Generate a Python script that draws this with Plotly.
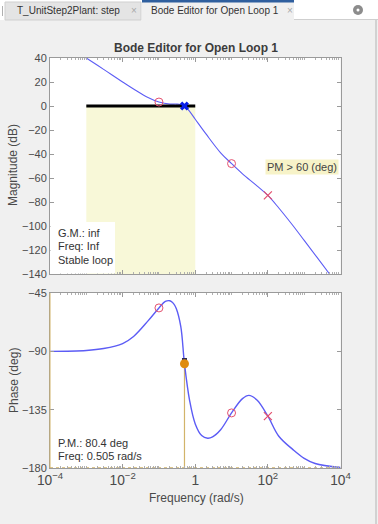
import plotly.graph_objects as go

# ---------------- data ----------------
mag_freq = [1e-4, 1e-3, 3e-3, 1e-2, 2e-2, 5e-2, 0.1, 0.2, 0.3, 0.4, 0.505, 0.7, 1.0, 2.0,
            5.0, 10.0, 20.0, 50.0, 100.0, 200.0, 500.0, 1000.0, 5000.0, 1e4]
mag_db = [60, 40, 30.5, 20, 14.2, 7.1, 3.3, 1.6, 1.6, 1.3, 0, -4.5, -11, -23.5,
          -39, -48, -56.5, -66.5, -74.5, -85, -100, -112, -140, -152]

phase_freq = [1e-4, 1e-3, 3e-3, 1e-2, 2e-2, 5e-2, 0.1, 0.15, 0.2, 0.25, 0.3, 0.4, 0.505,
              0.7, 1.0, 1.5, 2.2, 3.0, 5.0, 10.0, 20.0, 30.0, 50.0, 100.0, 200.0, 500.0,
              1000.0, 2000.0, 1e4]
phase_deg = [-90, -89.3, -87.8, -84, -78.5, -66.5, -56.5, -51.5, -51, -53, -57, -71, -99.6,
             -128, -146, -155, -157, -156, -150.5, -137.5, -126.5, -124, -127.5, -140,
             -155.5, -166, -172.5, -176.5, -179.6]

# compensator zeros (circles) and pole (x)
zero_freq = [0.1, 10.0]
zero_mag = [3.3, -48]
zero_phase = [-56.5, -137.5]
pole_freq = [100.0]
pole_mag = [-74.5]
pole_phase = [-140]

# crossover / margins
wc = 0.505
pm_phase = -99.6
gm_text = ["G.M.: inf", "Freq: Inf", "Stable loop"]
pm_text = ["P.M.: 80.4 deg", "Freq: 0.505 rad/s"]
constraint_label = "PM > 60 (deg)"
# design constraint region (magnitude plot)
bound_freq = [1e-3, 1.0]
bound_mag = [0, -140]

mag_ticks = [40, 20, 0, -20, -40, -60, -80, -100, -120, -140]
phase_ticks = [-45, -90, -135, -180]

title = "Bode Editor for Open Loop 1"
tab_labels = ["T_UnitStep2Plant: step", "Bode Editor for Open Loop 1"]

# ---------------- layout helpers ----------------
W, H = 378, 524
def px(x): return x / W
def py(y): return 1 - y / H

FONT = "Liberation Sans, Arial, Helvetica, sans-serif"
TXT = "#4a4a4a"
AX = "#9a9a9a"
BLUE = "#5c5cf5"
PINK = "#e4506e"
ORANGE = "#df8c10"
TAN = "#d2b46a"

fig = go.Figure()

# yellow constraint region + black bound line
fig.add_trace(go.Scatter(
    x=[bound_freq[0], bound_freq[1], bound_freq[1], bound_freq[0], bound_freq[0]],
    y=[bound_mag[0], bound_mag[0], bound_mag[1], bound_mag[1], bound_mag[0]],
    fill="toself", fillcolor="#f8f8d8", mode="lines", line=dict(width=0),
    xaxis="x", yaxis="y", hoverinfo="skip"))

fig.add_trace(go.Scatter(
    x=mag_freq, y=mag_db, mode="lines", line=dict(color=BLUE, width=1.1, shape="spline"),
    xaxis="x", yaxis="y"))

fig.add_trace(go.Scatter(
    x=bound_freq, y=[bound_mag[0], bound_mag[0]], mode="lines",
    line=dict(color="#000000", width=3), xaxis="x", yaxis="y"))

fig.add_trace(go.Scatter(
    x=zero_freq, y=zero_mag, mode="markers",
    marker=dict(symbol="circle-open", size=8, color=PINK, line=dict(width=1)),
    xaxis="x", yaxis="y"))
fig.add_trace(go.Scatter(
    x=pole_freq, y=pole_mag, mode="markers",
    marker=dict(symbol="x-thin-open", size=8, color=PINK, line=dict(width=1.2, color=PINK)),
    xaxis="x", yaxis="y"))
fig.add_trace(go.Scatter(
    x=[wc], y=[0], mode="markers",
    marker=dict(symbol="x", size=8, color="#0a1ee6", line=dict(width=0)),
    xaxis="x", yaxis="y"))

# phase plot
fig.add_trace(go.Scatter(
    x=[phase_freq[0], phase_freq[-1]], y=[-180, -180], mode="lines",
    line=dict(color=TAN, width=1.5, dash="dot"), xaxis="x2", yaxis="y2"))
fig.add_trace(go.Scatter(
    x=[wc, wc], y=[pm_phase, -180], mode="lines",
    line=dict(color=TAN, width=1.2), xaxis="x2", yaxis="y2"))
fig.add_trace(go.Scatter(
    x=phase_freq, y=phase_deg, mode="lines", line=dict(color=BLUE, width=1.4, shape="spline"),
    xaxis="x2", yaxis="y2"))
fig.add_trace(go.Scatter(
    x=zero_freq, y=zero_phase, mode="markers",
    marker=dict(symbol="circle-open", size=8, color=PINK, line=dict(width=1)),
    xaxis="x2", yaxis="y2"))
fig.add_trace(go.Scatter(
    x=pole_freq, y=pole_phase, mode="markers",
    marker=dict(symbol="x-thin-open", size=8, color=PINK, line=dict(width=1.2, color=PINK)),
    xaxis="x2", yaxis="y2"))
fig.add_trace(go.Scatter(
    x=[wc], y=[pm_phase + 2.5], mode="markers",
    marker=dict(symbol="square", size=5, color="#2a2a5a"),
    xaxis="x2", yaxis="y2"))
fig.add_trace(go.Scatter(
    x=[wc], y=[pm_phase], mode="markers",
    marker=dict(symbol="circle", size=9, color=ORANGE),
    xaxis="x2", yaxis="y2"))

xdom = [px(50), px(340.5)]
common_x = dict(type="log", range=[-4, 4], domain=xdom, showline=True, linecolor=AX,
                linewidth=1, mirror="ticks", ticks="inside", ticklen=4, tickcolor=AX,
                dtick=2, showgrid=False, zeroline=False, automargin=False,
                minor=dict(ticks="inside", ticklen=2, tickcolor="#b0b0b0", dtick="D1",
                           showgrid=False))
common_y = dict(showline=True, linecolor=AX, linewidth=1, mirror="ticks", ticks="inside",
                ticklen=4, tickcolor=AX, showgrid=False, zeroline=False, automargin=False,
                tickfont=dict(family=FONT, size=11, color=TXT))

fig.update_layout(
    width=W, height=H, autosize=False,
    margin=dict(l=0, r=0, t=0, b=0, pad=0),
    paper_bgcolor="#f0f0f0", plot_bgcolor="#ffffff",
    showlegend=False,
    font=dict(family=FONT, size=11, color=TXT),
    xaxis=dict(**common_x, anchor="y", showticklabels=False),
    yaxis=dict(**common_y, anchor="x", domain=[py(274), py(58)], range=[-140, 40],
               tickvals=mag_ticks),
    xaxis2=dict(**common_x, anchor="y2", showticklabels=True, exponentformat="power",
                tickfont=dict(family=FONT, size=11, color=TXT)),
    yaxis2=dict(**common_y, anchor="x2", domain=[py(468), py(293)], range=[-180, -45],
                tickvals=phase_ticks),
)

shapes = []
# tab bar
shapes.append(dict(type="rect", xref="paper", yref="paper", x0=0, x1=1, y0=py(20), y1=1,
                   fillcolor="#ffffff", line=dict(width=0), layer="below"))
shapes.append(dict(type="rect", xref="paper", yref="paper", x0=px(5), x1=px(141),
                   y0=py(20), y1=py(2), fillcolor="#e4e4e4",
                   line=dict(width=1, color="#cfcfcf"), layer="below"))
shapes.append(dict(type="rect", xref="paper", yref="paper", x0=px(142), x1=px(294),
                   y0=py(21), y1=1, fillcolor="#f0f0f0", line=dict(width=0), layer="below"))
shapes.append(dict(type="rect", xref="paper", yref="paper", x0=px(142), x1=px(294),
                   y0=py(2.5), y1=1, fillcolor="#2f5f9e", line=dict(width=0), layer="below"))
shapes.append(dict(type="line", xref="paper", yref="paper", x0=px(294), x1=1,
                   y0=py(19.5), y1=py(19.5), line=dict(width=1, color="#cfcfcf")))
shapes.append(dict(type="line", xref="paper", yref="paper", x0=px(2.5), x1=px(2.5),
                   y0=py(6), y1=py(16), line=dict(width=1, color="#b0b0b0")))
# gear icon
shapes.append(dict(type="circle", xref="paper", yref="paper", x0=px(353), x1=px(363),
                   y0=py(15), y1=py(5), fillcolor="#8c8c8c", line=dict(width=0)))
shapes.append(dict(type="circle", xref="paper", yref="paper", x0=px(356.5), x1=px(359.5),
                   y0=py(11.5), y1=py(8.5), fillcolor="#ffffff", line=dict(width=0)))
# right panel edge
shapes.append(dict(type="line", xref="paper", yref="paper", x0=px(376), x1=px(376),
                   y0=0, y1=py(20), line=dict(width=1, color="#b4b4b4")))
# GM info box
shapes.append(dict(type="rect", xref="paper", yref="paper", x0=px(50.5), x1=px(115),
                   y0=py(273.5), y1=py(222), fillcolor="#ffffff", line=dict(width=0),
                   layer="above"))
# tan left edge of phase axes
shapes.append(dict(type="line", xref="paper", yref="paper", x0=px(50), x1=px(50),
                   y0=py(468), y1=py(293), line=dict(width=1, color=TAN)))
fig.update_layout(shapes=shapes)

ann = []
def text(x, y, s, size=11, color=TXT, xanchor="left", bold=False, angle=0, bg=None):
    d = dict(xref="paper", yref="paper", x=px(x), y=py(y), text=("<b>%s</b>" % s) if bold else s,
             showarrow=False, xanchor=xanchor, yanchor="middle", textangle=angle,
             font=dict(family=FONT, size=size, color=color))
    if bg:
        d["bgcolor"] = bg
        d["borderpad"] = 1
    ann.append(d)

text(15, 11, tab_labels[0], size=10, color="#333333")
text(129, 11, "×", size=10, color="#a8a8a8")
text(149, 11, tab_labels[1], size=10, color="#333333")
text(285, 11, "×", size=10, color="#a8a8a8")
text(196, 48, title, size=12, color="#3c3c3c", xanchor="center", bold=True)
text(13, 165, "Magnitude (dB)", size=12, xanchor="center", angle=-90)
text(14, 381, "Phase (deg)", size=12, xanchor="center", angle=-90)
text(196, 498, "Frequency (rad/s)", size=12, xanchor="center")
for i, s in enumerate(gm_text):
    text(56, 232.5 + 13.7 * i, s, size=11, color="#333333")
text(56, 443, pm_text[0], size=11, color="#333333")
text(56, 456, pm_text[1], size=11, color="#333333")
text(301.5, 166.5, constraint_label, size=11, color="#444444", xanchor="center", bg="#f7f3c8")
fig.update_layout(annotations=ann)

fig.write_html("out.html", config={"displayModeBar": False},
               post_script="document.body.style.margin='0px';document.body.style.overflow='hidden';")
